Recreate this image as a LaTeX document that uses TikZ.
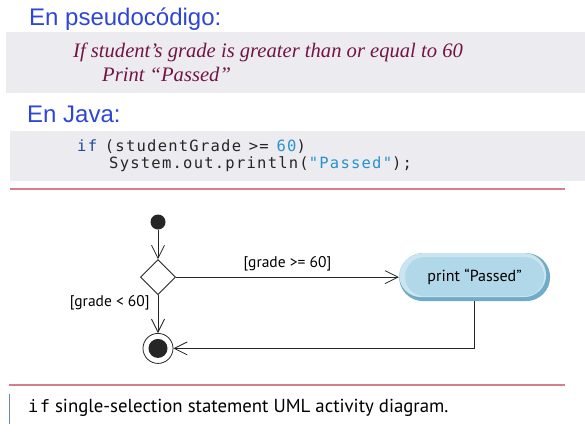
\documentclass[tikz,border=0pt]{standalone}
\usepackage{fontspec}
\setmainfont{Liberation Sans}
\newfontfamily\umlfont{PT Sans}
\newfontfamily\pseudofont{Liberation Serif}
\newfontfamily\codefont[LetterSpace=8]{DejaVu Sans Mono}
\newcommand\codesetup{\codefont\fontsize{15.5}{18}\selectfont\spaceskip=7.8pt\relax}
\usetikzlibrary{arrows.meta,positioning,shapes.geometric,shapes.misc}

\definecolor{headblue}{RGB}{45,70,215}
\definecolor{pseudored}{RGB}{115,20,70}
\definecolor{panelgray}{RGB}{236,236,240}
\definecolor{rulered}{RGB}{215,125,140}
\definecolor{kwblue}{RGB}{25,75,160}
\definecolor{litblue}{RGB}{40,145,210}
\definecolor{actrim}{RGB}{112,172,200}
\definecolor{actlight}{RGB}{202,229,239}
\definecolor{actfill}{RGB}{176,216,232}

\begin{document}
\begin{tikzpicture}[x=1pt, y=-1pt,
  head/.style={anchor=base west, inner sep=0, text=headblue,
               font=\fontsize{24}{28}\selectfont},
  txt/.style={anchor=base west, inner sep=0},
  code/.style={txt, text=black!85, font=\codesetup},
  panel/.style={fill=panelgray},
  rule/.style={draw=rulered, line width=2pt},
  lbl/.style={inner sep=0, font=\umlfont\fontsize{15.5}{18}\selectfont},
  start/.style={circle, fill=black!85, minimum size=15pt, inner sep=0},
  dec/.style={diamond, draw=black!85, line width=0.8pt, minimum size=35pt, inner sep=0},
  act/.style={rounded rectangle, fill=actrim, minimum width=151pt,
              minimum height=48pt, inner sep=0,
              font=\umlfont\fontsize{16}{18}\selectfont,
              path picture={
                \fill[actlight, rounded corners=22pt]
                  (path picture bounding box.north west)
                  rectangle ([xshift=-4pt,yshift=4pt]path picture bounding box.south east);
                \fill[actfill, rounded corners=19.5pt]
                  ([xshift=6pt,yshift=-4pt]path picture bounding box.north west)
                  rectangle ([xshift=-6pt,yshift=5pt]path picture bounding box.south east);}},
  stop/.style={circle, draw=black!85, line width=0.8pt, minimum size=30pt, inner sep=0,
               path picture={\fill[black!85] (path picture bounding box.center) circle (9.5pt);}},
  arr/.style={-{Straight Barb[length=13pt,width=13pt]}, line width=0.8pt, draw=black!85},
]
\fill[white] (0,0) rectangle (585,440);
\useasboundingbox (0,0) rectangle (585,440);

% pseudocode panel
\node[head] (hpseudo) at (29,25) {En pseudocódigo:};
\fill[panel] (6,32) rectangle (585,93);
\node[txt, text=pseudored, font=\pseudofont\itshape\fontsize{20.6}{24}\selectfont] (ps1) at (73,57)
  {If student’s grade is greater than or equal to 60};
\node[txt, text=pseudored, font=\pseudofont\itshape\fontsize{20.6}{24}\selectfont] (ps2) at (102,81)
  {Print “Passed”};

% java panel
\node[head] (hjava) at (27,122) {En Java:};
\fill[panel] (10,131) rectangle (585,181);
\node[code] (jv1) at (77,151)
  {{\color{kwblue}if} (studentGrade >= {\color{litblue}60})};
\node[code] (jv2) at (109,168)
  {System.out.println({\color{litblue}"Passed"});};
\draw[rule] (10,189) -- (565,189);

% activity diagram
\node[start]                     (init) at (158,222) {};
\node[dec,  below=29.5pt of init] (dec) {};
\node[act,  right=223pt of dec]   (act) {print “Passed”};
\node[stop, below=38pt of dec]    (fin) {};

\draw[arr] (init) -- (dec);
\draw[arr] (dec) -- (act) node[midway, above=6pt, lbl] {[grade >= 60]};
\draw[arr] (dec) -- (fin) node[pos=0.2, left=8pt, lbl] {[grade < 60]};
\draw[arr] (act.south) |- (fin);

% caption
\draw[rule] (9,385) -- (565,385);
\draw[draw={rgb,255:red,110;green,135;blue,170}, line width=1pt] (9,394) -- (9,424);
\node[txt, font=\umlfont\fontsize{18.8}{22}\selectfont] (cap) at (28,412)
  {{\codefont\fontsize{17}{22}\selectfont if} single-selection statement UML activity diagram.};
\end{tikzpicture}
\end{document}
